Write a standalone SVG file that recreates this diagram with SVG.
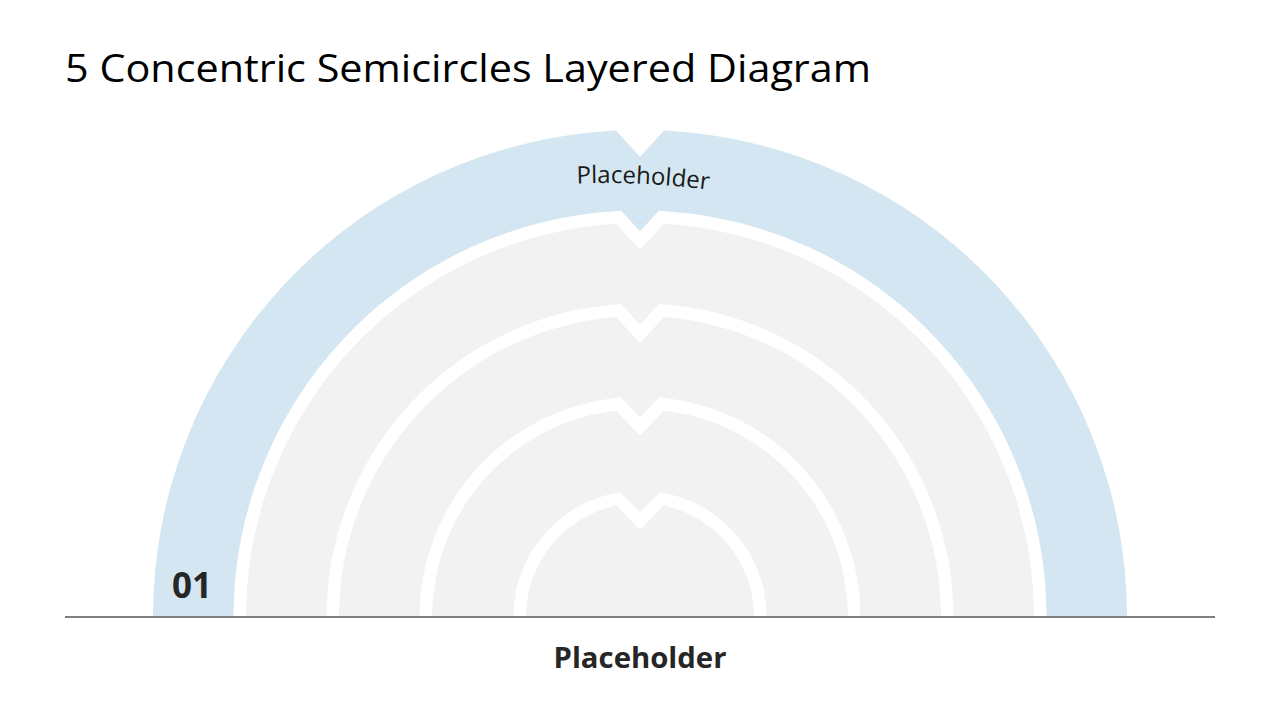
<svg xmlns="http://www.w3.org/2000/svg" xmlns:xlink="http://www.w3.org/1999/xlink" width="1280" height="720" viewBox="0 0 1280 720">
  <style>
    .layer { stroke: #ffffff; stroke-width: 25; paint-order: stroke; stroke-linejoin: miter; }
    .blue { fill: #d3e6f1; }
    .grey { fill: #f2f2f2; }
    .title { font-family: "Open Sans", "Noto Sans", "Liberation Sans", sans-serif; font-size: 38px; fill: #000000; }
    .arcLabel { font-family: "Open Sans", "Noto Sans", "Liberation Sans", sans-serif; font-size: 24px; fill: #1a1a1a; }
    .num { font-family: "Open Sans", "Noto Sans", "Liberation Sans", sans-serif; font-size: 35px; font-weight: bold; fill: #262626; }
    .label { font-family: "Open Sans", "Noto Sans", "Liberation Sans", sans-serif; font-size: 29px; font-weight: bold; fill: #262626; }
  </style>
  <defs>
    <path id="arcText" d="M405,208.4 A800,800 0 0 1 805,208.4" fill="none"/>
  </defs>
  <rect width="1280" height="720" fill="#ffffff"/>

  <text class="title" x="65" y="82" textLength="806" lengthAdjust="spacingAndGlyphs">5 Concentric Semicircles Layered Diagram</text>

  <g id="layer1">
    <path class="layer blue" d="M153,617 A487,487 0 0 1 616,130.6 L640,157 L664,130.6 A487,487 0 0 1 1127,617"/>
    <text class="arcLabel"><textPath xlink:href="#arcText" startOffset="240" text-anchor="middle">Placeholder</textPath></text>
    <text class="num" x="172" y="598">01</text>
  </g>
  <g id="layer2">
    <path class="layer grey" d="M246,617 A394,394 0 0 1 616,223.7 L640,250 L664,223.7 A394,394 0 0 1 1034,617"/>
  </g>
  <g id="layer3">
    <path class="layer grey" d="M339,617 A301,301 0 0 1 616,317 L640,343 L664,317 A301,301 0 0 1 941,617"/>
  </g>
  <g id="layer4">
    <path class="layer grey" d="M432,617 A208,208 0 0 1 616,410.4 L640,436 L664,410.4 A208,208 0 0 1 848,617"/>
  </g>
  <g id="layer5">
    <path class="layer grey" d="M526,617 A114,114 0 0 1 616,505.6 L640,530 L664,505.6 A114,114 0 0 1 754,617"/>
  </g>

  <g id="connectors">
    <line x1="65" y1="617" x2="1215" y2="617" stroke="#7f7f7f" stroke-width="2"/>
  </g>

  <text class="label" x="640" y="668" text-anchor="middle" textLength="173" lengthAdjust="spacingAndGlyphs">Placeholder</text>
</svg>
